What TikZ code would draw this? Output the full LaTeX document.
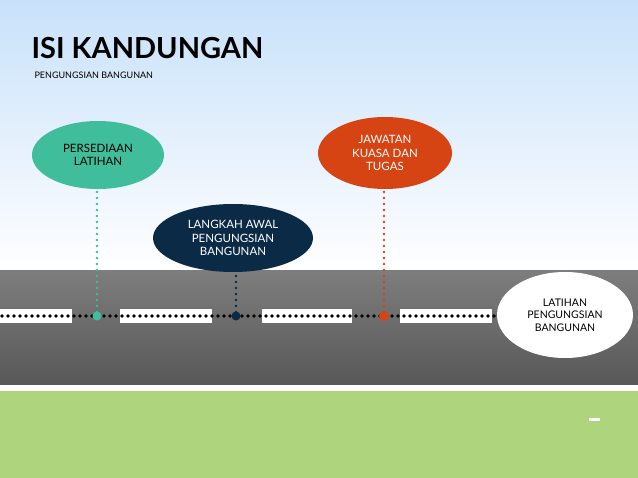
\documentclass[tikz,border=0pt]{standalone}
\usepackage{fontspec}
\setmainfont{Lato}
\usetikzlibrary{shapes.geometric}
\definecolor{tl}{RGB}{64,190,155}\definecolor{nv}{RGB}{11,42,69}\definecolor{or}{RGB}{214,68,20}
\definecolor{sky}{RGB}{200,225,250}\definecolor{rd1}{RGB}{125,125,125}\definecolor{rd2}{RGB}{88,88,88}
\definecolor{grn}{RGB}{174,213,125}
\begin{document}
\begin{tikzpicture}[x=1pt,y=-1pt,
  dots/.style={line width=3.6pt,line cap=round,dash pattern=on 0pt off 6pt}]
\useasboundingbox (0,0) rectangle (638,478);
\shade[top color=sky,bottom color=white] (0,0) rectangle (638,271);
\shade[top color=rd1,bottom color=rd2] (0,271) rectangle (638,385);
\fill[white] (0,385) rectangle (638,391);
\fill[grn] (0,391) rectangle (638,478);
\foreach \a/\b in {0/72,120/212,262/352,400/492} \fill[white] (\a,309) rectangle (\b,323);
\coordinate (l0) at (2,316); \coordinate (l1) at (500,316);
\draw[dots,black] (l0) -- (l1);
\node[anchor=west,font=\bfseries\fontsize{29}{32}\selectfont] (t) at (28,48) {ISI KANDUNGAN};
\node[anchor=west,font=\fontsize{9}{10}\selectfont] (s) at (31,75) {PENGUNGSIAN BANGUNAN};
\node[ellipse,fill=tl,minimum width=132,minimum height=68] (a) at (98,155) {};
\node[align=center,font=\fontsize{11.5}{13.5}\selectfont] at (a) {PERSEDIAAN\\LATIHAN};
\node[ellipse,fill=nv,minimum width=160,minimum height=68] (b) at (233,238) {};
\node[align=center,text=white,font=\fontsize{11.5}{13.5}\selectfont] at (b) {LANGKAH AWAL\\PENGUNGSIAN\\BANGUNAN};
\node[ellipse,fill=or,minimum width=134,minimum height=72] (c) at (385,153) {};
\node[align=center,text=white,font=\fontsize{11.5}{13.5}\selectfont] at (c) {JAWATAN\\KUASA DAN\\TUGAS};
\node[ellipse,fill=white,minimum width=136,minimum height=86] (d) at (565,315) {};
\node[align=center,font=\fontsize{10.5}{12.5}\selectfont] at (d) {LATIHAN\\PENGUNGSIAN\\BANGUNAN};
\coordinate (pa) at (97,316); \coordinate (pb) at (236,316); \coordinate (pc) at (384,316);
\draw[dots,line width=2.8pt,tl] (97,192) -- (pa); \fill[tl] (pa) circle (4.5);
\draw[dots,line width=2.8pt,nv] (236,276) -- (pb); \fill[nv] (pb) circle (4.5);
\draw[dots,line width=2.8pt,or] (384,192) -- (pc); \fill[or] (pc) circle (5);
\fill[white] (589,418) rectangle (600,421);
\end{tikzpicture}
\end{document}
